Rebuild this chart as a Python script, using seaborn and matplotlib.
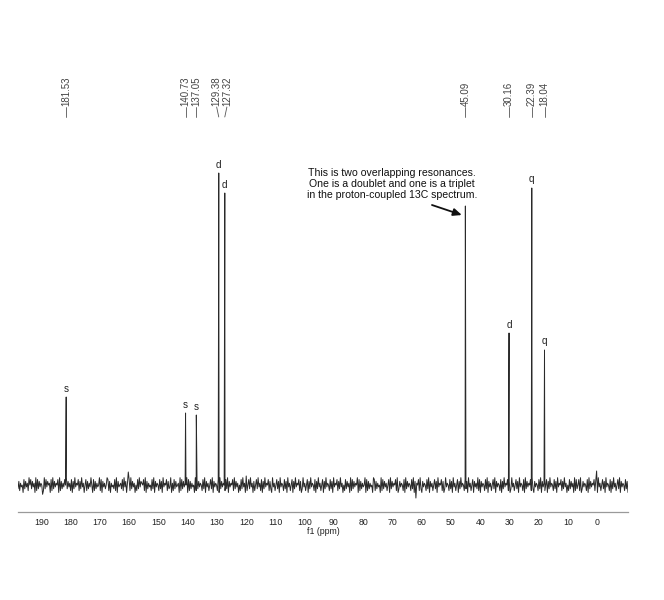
import numpy as np
import matplotlib
matplotlib.use("Agg")
import matplotlib.pyplot as plt
import seaborn as sns

# peaks (ppm, height above baseline, multiplicity)
PEAK_PPM = [181.53, 140.73, 137.05, 129.38, 127.32, 45.09, 30.16, 22.39, 18.04]
PEAK_HEIGHT = [89, 73, 71, 313, 293, 280, 153, 298, 136]
PEAK_MULT = ["s", "s", "s", "d", "d", "", "d", "q", "q"]

# baseline noise, one digit per sample from 198 to -10.5 ppm (estimated)
NOISE = (
    "372645183746295837461928374650293847561829374658192736485937"
    "462817394658273946158273649518273645928174635982716453829174"
    "563829471658293746152839476582917364528391746528371946582734"
    "916283745619283746591827364519283746528391746258391746528193"
    "746528391746582937461528394617258394617258394628173946582731"
    "946258371946528371946258173946582713946258173946528173946258"
    "173946528371946582739461528374619283746591827364591827364519"
    "827364519283746258193746582913746528193746528391746582931746"
    "528391746258371946582713946528371946258173946528371946258174"
    "639281746528391746258391746528173946582713946258371946528193"
    "746582931746528391746258173946528371946582739461528374619283"
    "582913746528193746582731946258371946528173946258391746528371"
)
SPIKE_PPM = [160.3, 120.0, 62.0, 0.3]
SPIKE_HEIGHT = [14, 10, -12, 15]

XTICKS = list(range(190, -1, -10))
XMINOR = list(range(195, -6, -10))

NOTE = ("This is two overlapping resonances.\n"
        "One is a doublet and one is a triplet\n"
        "in the proton-coupled 13C spectrum.")

sns.set_style("white")
plt.rcParams["font.family"] = ["Liberation Sans", "DejaVu Sans"]

# build the spectrum trace
grid = np.linspace(198, -10.5, len(NOISE))
base = (np.array([int(c) for c in NOISE]) - 4.5) * 1.85
for p, h in zip(SPIKE_PPM, SPIKE_HEIGHT):
    base[np.argmin(np.abs(grid - p))] = h
x = np.concatenate([grid, PEAK_PPM])
y = np.concatenate([base, PEAK_HEIGHT])
order = np.argsort(-x)
x, y = x[order], y[order]

fig = plt.figure(figsize=(6.64, 6), dpi=100)
ax = fig.add_axes([18 / 664, 88 / 600, 610 / 664, 452 / 600])
sns.lineplot(x=x, y=y, ax=ax, estimator=None, sort=False, color="#2a2a2a", lw=0.7)
ax.set_xlim(198, -10.5)
ax.set_ylim(-26, 426)

for s in ["top", "left", "right"]:
    ax.spines[s].set_visible(False)
ax.spines["bottom"].set_color("#9a9a9a")
ax.spines["bottom"].set_linewidth(0.9)
ax.set_yticks([])
ax.set_xticks(XTICKS)
ax.set_xticks(XMINOR, minor=True)
ax.tick_params(axis="x", which="major", length=2, direction="out", color="#9a9a9a",
               labelsize=6.3, pad=2, labelcolor="#222222")
ax.tick_params(axis="x", which="minor", length=1.5, direction="in", color="#9a9a9a")
ax.set_xlabel("f1 (ppm)", fontsize=6.3, labelpad=0.5, color="#222222")

# multiplicity letters above peaks
for p, h, m in zip(PEAK_PPM, PEAK_HEIGHT, PEAK_MULT):
    if m:
        ax.text(p, h + 5.5, m, ha="center", va="baseline", fontsize=7.2, color="#222222")

# peak picking labels at the top
labels = list(PEAK_PPM)
min_sep = 3.5
for i in range(len(labels) - 1):
    if labels[i] - labels[i + 1] < min_sep:
        mid = (labels[i] + labels[i + 1]) / 2
        labels[i] = mid + min_sep / 2
        labels[i + 1] = mid - min_sep / 2
for p, lp in zip(PEAK_PPM, labels):
    ax.plot([lp, p], [379, 369], color="#555555", lw=0.6)
    ax.text(lp, 380.5, f"{p:.2f}", rotation=90, ha="center", va="bottom",
            fontsize=7, color="#444444")

ax.text(70.2, 302, NOTE, ha="center", va="center", fontsize=7.6,
        linespacing=1.1, color="#111111")
ax.annotate("", xy=(46.3, 271), xytext=(56.5, 281),
            arrowprops=dict(arrowstyle="-|>,head_length=0.5,head_width=0.22",
                            color="#111111", lw=1.3, shrinkA=0, shrinkB=0))

fig.savefig("out.png", dpi=100)
